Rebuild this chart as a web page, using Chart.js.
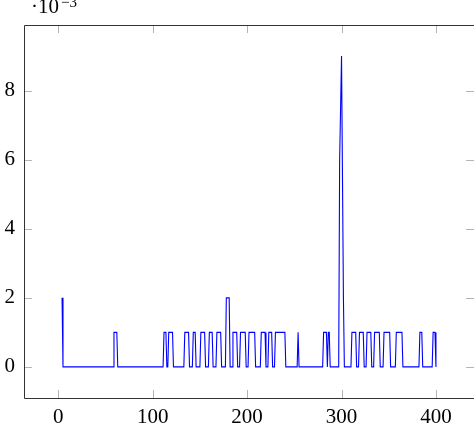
<!DOCTYPE html>
<html>
<head>
<meta charset="utf-8">
<script src="https://cdn.jsdelivr.net/npm/chart.js@4.4.0/dist/chart.umd.min.js"></script>
<style>
html,body{margin:0;padding:0;background:#fff;overflow:hidden}
canvas{display:block}
</style>
</head>
<body>
<canvas id="c" width="474" height="428"></canvas>
<script>
// Series vertices (x index, value)
const xValues = [
  4, 5, 58, 59, 62, 63,
  111, 112, 114, 115, 116, 117, 121, 122,
  133, 134, 138, 139, 142, 143, 145, 146,
  150, 151, 155, 156, 159, 160, 163, 164,
  167, 168, 172, 173, 177, 178, 181, 182,
  184, 185, 189, 190, 192, 193, 198, 199,
  201, 202, 208, 209, 214, 215, 219, 220,
  222, 223, 226, 227, 229, 230, 240, 241,
  253, 254, 255, 280, 281, 284, 285, 286, 287, 288,
  297, 298, 300, 302, 303,
  310, 311, 315, 316, 318, 319, 323, 324,
  326, 327, 331, 332, 334, 335, 340, 341,
  344, 345, 351, 352, 357, 358, 364, 365,
  382, 383, 385, 386, 396, 397, 399, 400
];
const yValues = [
  2e-3, 0, 0, 1e-3, 1e-3, 0,
  0, 1e-3, 1e-3, 0, 0, 1e-3, 1e-3, 0,
  0, 1e-3, 1e-3, 0, 0, 1e-3, 1e-3, 0,
  0, 1e-3, 1e-3, 0, 0, 1e-3, 1e-3, 0,
  0, 1e-3, 1e-3, 0, 0, 2e-3, 2e-3, 0,
  0, 1e-3, 1e-3, 0, 0, 1e-3, 1e-3, 0,
  0, 1e-3, 1e-3, 0, 0, 1e-3, 1e-3, 0,
  0, 1e-3, 1e-3, 0, 0, 1e-3, 1e-3, 0,
  0, 1e-3, 0, 0, 1e-3, 1e-3, 0, 1e-3, 1e-3, 0,
  0, 6e-3, 9e-3, 2e-3, 0,
  0, 1e-3, 1e-3, 0, 0, 1e-3, 1e-3, 0,
  0, 1e-3, 1e-3, 0, 0, 1e-3, 1e-3, 0,
  0, 1e-3, 1e-3, 0, 0, 1e-3, 1e-3, 0,
  0, 1e-3, 1e-3, 0, 0, 1e-3, 1e-3, 0
];
const xTickValues = [0, 100, 200, 300, 400];
const yTickValues = [0, 2e-3, 4e-3, 6e-3, 8e-3];
const yExponent = -3;

const FONT = '"Liberation Serif", "DejaVu Serif", serif';

const framePlugin = {
  id: 'frame',
  afterDraw(chart) {
    const ctx = chart.ctx;
    const a = chart.chartArea;
    const xs = chart.scales.x, ys = chart.scales.y;
    const L = 8;
    ctx.save();
    ctx.strokeStyle = '#b4b4b4';
    ctx.lineWidth = 1;
    ctx.beginPath();
    xTickValues.forEach(v => {
      const px = Math.round(xs.getPixelForValue(v)) + 0.5;
      ctx.moveTo(px, a.bottom); ctx.lineTo(px, a.bottom - L);
      ctx.moveTo(px, a.top); ctx.lineTo(px, a.top + L);
    });
    yTickValues.forEach(v => {
      const py = Math.round(ys.getPixelForValue(v)) + 0.5;
      ctx.moveTo(a.left, py); ctx.lineTo(a.left + L, py);
      ctx.moveTo(a.right, py); ctx.lineTo(a.right - L, py);
    });
    ctx.stroke();
    ctx.strokeStyle = '#333';
    ctx.beginPath();
    ctx.rect(Math.round(a.left) + 0.5, Math.round(a.top) + 0.5, a.right - a.left, a.bottom - a.top);
    ctx.stroke();
    // axis multiplier label
    ctx.fillStyle = '#000';
    ctx.textBaseline = 'alphabetic';
    ctx.textAlign = 'left';
    ctx.font = '21px ' + FONT;
    ctx.fillText('\u00B710', 31, 13);
    ctx.font = '15px ' + FONT;
    ctx.fillText('\u2212' + Math.abs(yExponent), 61, 7);
    ctx.restore();
  }
};

const points = xValues.map((x, i) => ({x: x, y: yValues[i]}));

new Chart(document.getElementById('c'), {
  type: 'scatter',
  data: {
    datasets: [{
      data: points,
      showLine: true,
      borderColor: '#0000ff',
      borderWidth: 1.1,
      pointRadius: 0,
      tension: 0,
      fill: false
    }]
  },
  options: {
    responsive: false,
    animation: false,
    devicePixelRatio: 1,
    layout: {padding: {top: 25, left: 0, right: 0, bottom: 0}},
    plugins: {legend: {display: false}, tooltip: {enabled: false}},
    scales: {
      x: {
        type: 'linear',
        min: -36.3,
        max: 440.3,
        afterBuildTicks: s => { s.ticks = xTickValues.map(v => ({value: v})); },
        afterFit: s => { s.height = 30; },
        grid: {display: false, drawTicks: false},
        border: {display: false},
        ticks: {
          color: '#000',
          font: {family: FONT, size: 21},
          padding: 7,
          maxRotation: 0,
          autoSkip: false,
          callback: v => String(v)
        }
      },
      y: {
        type: 'linear',
        min: -0.9e-3,
        max: 9.9e-3,
        afterBuildTicks: s => { s.ticks = yTickValues.map(v => ({value: v})); },
        afterFit: s => { s.width = 24; },
        grid: {display: false, drawTicks: false},
        border: {display: false},
        ticks: {
          color: '#000',
          font: {family: FONT, size: 21},
          padding: 9,
          autoSkip: false,
          callback: v => String(Math.round(v / Math.pow(10, yExponent)))
        }
      }
    }
  },
  plugins: [framePlugin]
});
</script>
</body>
</html>
